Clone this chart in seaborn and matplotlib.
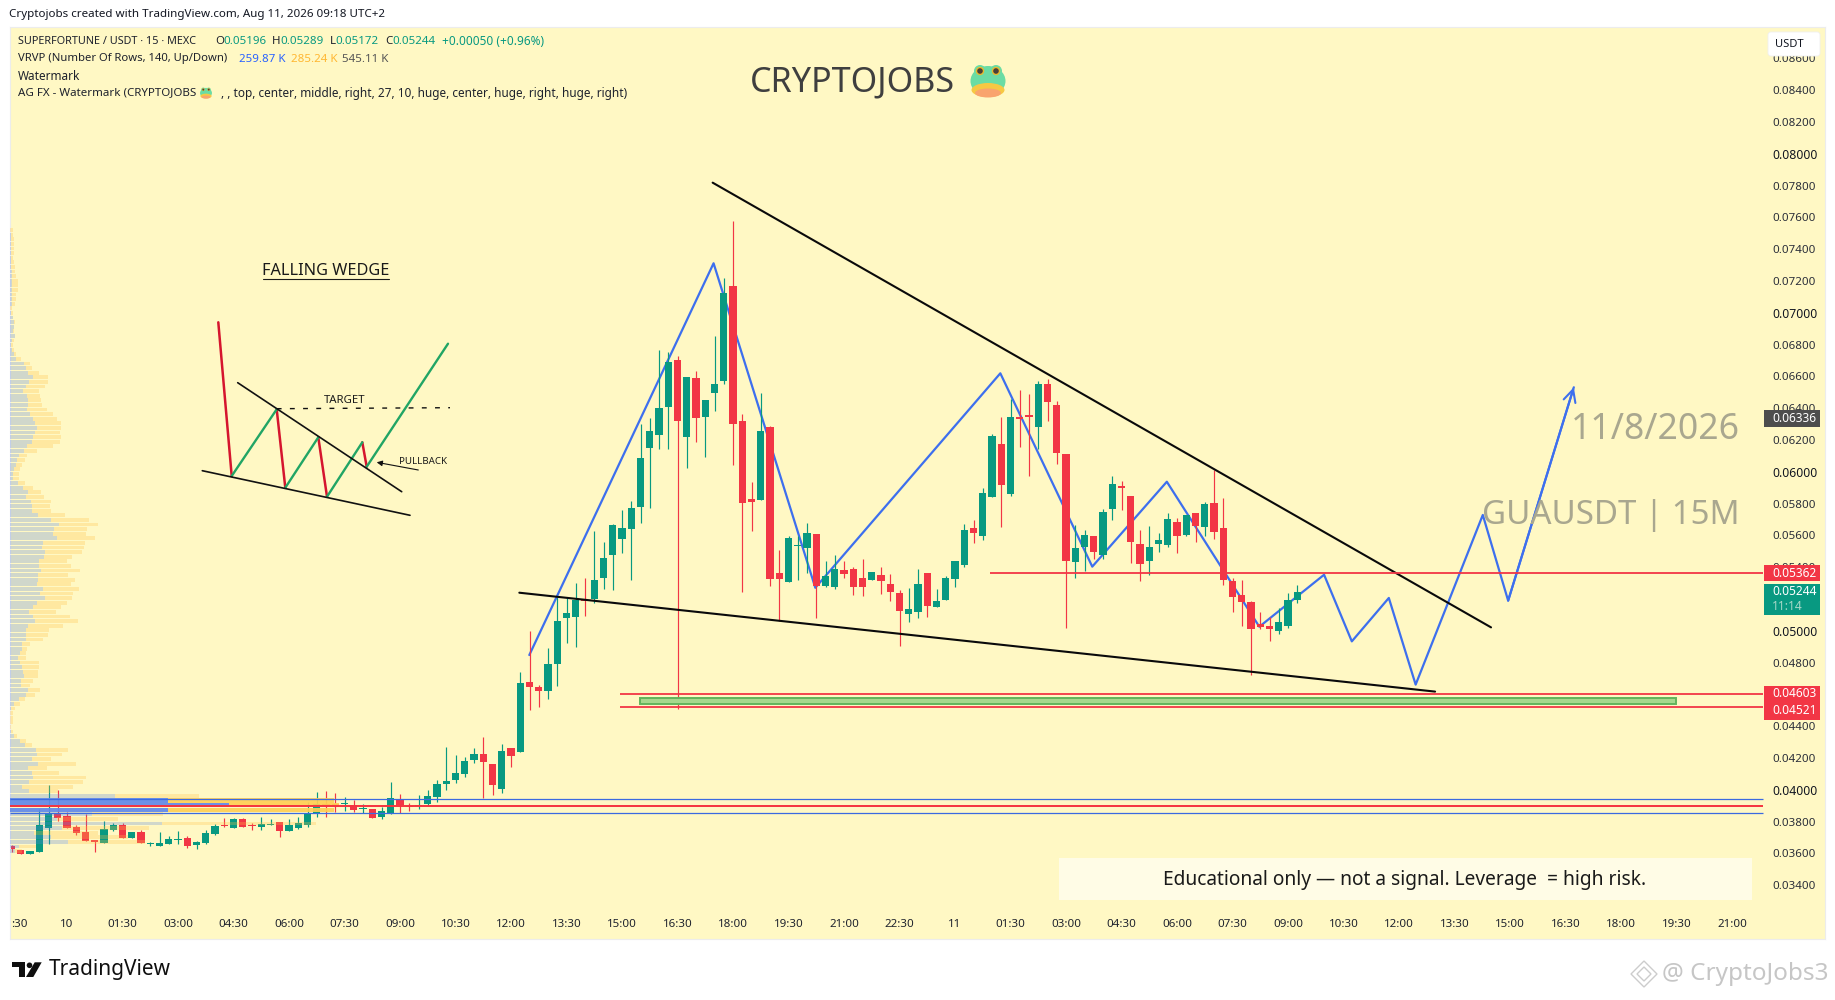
import numpy as np
import seaborn as sns
import matplotlib
matplotlib.use('Agg')
import matplotlib.pyplot as plt
from matplotlib.patches import Rectangle, Ellipse, Polygon, Circle, FancyBboxPatch

# candle prices, in thousandths of USDT
first_bar = -6
opens = [36.48,36.21,35.98,36.11,37.61,38.50,
	38.35,37.66,37.34,36.84,36.67,37.47,37.78,36.99,37.34,36.59,36.48,36.61,36.84,36.97,36.55,36.67,37.24,37.76,37.61,38.16,37.78,37.68,37.78,37.97,37.41,37.59,37.78,38.50,39.10,39.10,39.10,39.04,38.79,38.79,38.29,38.50,39.35,38.98,38.98,39.10,39.54,40.36,40.61,40.99,41.87,42.25,41.62,40.05,42.62,
	42.40,46.78,46.47,46.21,47.91,50.80,50.87,51.94,52.00,53.32,54.77,55.77,56.40,57.78,61.49,62.31,64.07,67.03,62.19,65.90,63.44,64.95,65.71,71.68,63.19,58.29,58.22,62.81,53.63,53.07,55.33,55.21,56.09,52.82,52.75,53.82,53.89,53.32,53.19,53.51,52.94,52.38,51.06,51.18,
	53.63,51.49,51.93,53.25,54.14,56.46,55.96,58.41,61.74,58.60,63.44,63.57,62.81,65.52,64.20,61.11,54.32,55.27,55.96,54.76,57.66,59.10,58.47,55.46,54.39,55.46,55.39,56.84,56.02,57.40,56.52,58.03,56.46,53.13,52.25,51.81,50.43,50.30,49.99,50.30,51.96]
highs = [36.55,36.21,36.15,38.77,40.30,39.98,
	38.58,37.76,38.47,36.84,38.03,37.93,37.91,37.34,37.45,36.71,37.34,37.09,37.41,37.09,36.80,37.47,37.85,38.22,38.22,38.22,37.93,38.29,38.16,37.97,38.16,38.29,39.21,39.86,39.92,39.79,39.54,39.35,39.10,38.79,38.91,40.49,39.73,39.17,39.67,39.98,40.61,42.69,42.18,42.06,42.62,43.32,41.62,42.88,42.62,
	47.41,49.99,46.59,48.92,52.15,52.15,53.01,53.32,56.28,55.58,56.71,57.60,58.16,63.00,63.38,67.66,67.53,67.28,65.96,66.34,64.51,68.54,72.18,75.77,63.63,59.36,64.95,62.88,55.08,55.96,55.96,56.78,56.09,54.39,54.77,54.39,54.01,54.51,53.70,54.01,53.57,52.57,52.69,53.89,
	53.63,52.63,53.44,54.39,56.71,56.96,58.98,62.37,63.44,64.57,65.14,64.89,65.71,65.83,64.45,61.11,56.65,56.34,55.96,57.66,59.73,59.42,58.47,56.34,56.59,56.15,57.40,57.09,57.28,57.40,58.10,60.11,58.35,53.32,53.19,51.87,51.18,50.87,51.43,52.37,52.89]
lows = [36.08,35.98,35.98,36.11,36.61,38.05,
	37.61,37.17,36.80,36.08,36.67,37.43,36.99,36.99,36.67,36.46,36.48,36.61,36.61,36.36,36.29,36.61,37.15,37.64,37.61,37.68,37.49,37.49,37.78,37.03,37.41,37.53,37.66,38.29,38.29,38.60,38.66,38.60,38.54,38.22,38.16,38.50,38.52,38.66,38.79,38.98,39.23,39.98,40.42,40.80,41.68,39.48,39.67,39.79,41.43,
	42.40,45.02,45.21,45.71,46.53,49.23,48.98,50.93,51.75,52.63,52.57,54.89,53.19,56.78,57.72,61.43,61.43,45.08,60.24,61.87,60.93,63.82,65.52,60.43,52.44,56.28,58.22,52.82,50.62,53.07,53.19,53.63,50.80,52.75,52.63,53.32,52.25,52.19,53.19,52.31,51.87,49.04,50.55,50.80,
	50.87,51.49,51.93,52.75,54.01,55.52,55.71,58.41,56.52,58.47,61.55,59.73,61.43,63.19,60.49,50.17,53.32,53.76,54.51,54.51,56.96,57.59,54.26,53.13,53.51,54.95,55.27,54.89,55.96,55.58,55.96,55.77,52.88,51.18,50.30,47.22,50.11,49.36,49.80,50.17,51.72]
closes = [36.29,35.98,36.15,37.78,38.50,38.22,
	37.61,37.30,36.80,36.73,37.53,37.78,36.99,37.34,36.67,36.65,36.65,36.90,36.90,36.48,36.71,37.28,37.72,37.70,38.16,37.68,37.72,37.85,37.85,37.41,37.78,37.91,38.50,39.10,39.04,39.04,39.17,38.73,38.85,38.22,38.66,39.48,39.04,38.91,39.04,39.61,40.36,40.55,41.05,41.81,42.25,41.74,40.30,42.44,42.12,
	46.72,46.47,46.21,47.91,50.62,51.12,51.94,51.89,53.19,54.58,56.65,56.46,57.72,60.87,62.56,64.01,66.90,63.19,65.96,63.38,64.51,65.52,71.24,63.00,58.04,58.10,62.56,53.26,53.26,55.84,55.39,56.15,52.82,53.45,53.89,53.57,52.75,52.75,53.70,53.13,52.44,51.24,51.37,52.94,
	51.56,51.87,53.32,54.39,56.34,56.15,58.66,62.25,59.17,63.44,63.32,63.44,65.52,64.38,61.18,54.39,55.20,56.02,54.95,57.47,59.23,58.98,55.58,54.20,55.27,55.71,57.03,55.96,57.28,56.59,57.97,56.21,53.19,52.12,51.81,50.11,50.24,50.11,50.55,51.93,52.44]

# volume profile rows, top to bottom
up_vol = [.3,.7,1,1,1,1,1,1,1,1.7,2,2,2,2,1.7,1.7,1.7,.3,1,2.7,4,4,3.3,4.7,2,1.3,2,4,6,14,16,18,23,19,16,13,17,18,18,17,20,23,25,27,25,23,22,17,14,9,7,6,4,3,3,8,13,18,16,21,22,22,28,41,49,44,43,47,33,32,35,34,29,29,31,28,28,27,33,30,35,27,23,19,23,25,18,16,16,16,12,12,10,8,10,12,13,14,11,11,18,16,9,4,1,.3,.3,.3,0,1,4,10,15,26,27,22,28,18,22,23,19,12,19,105,158,219,158,82,47,152,52,24,41,58,9,5]
down_vol = [2.3,2.7,2.7,2.7,2.7,2.7,2.3,2.7,3.7,3.7,4,6,6,6,4.3,4.3,3.3,2,1.7,.7,.7,0,.3,0,1.7,1.7,2,2,5,6,6,11,15,19,19,16,13,13,14,20,23,24,26,24,25,28,28,26,13,8,8,6,6,6,6,7,10,13,18,20,18,19,27,38,39,33,33,38,42,42,37,28,28,32,39,30,37,34,36,33,27,30,28,27,37,43,35,23,22,17,8,5,6,8,19,17,15,14,12,9,12,9,6,6,4,2.7,2.7,2.7,.7,2,3,6,7,32,25,19,38,19,27,53,54,51,29,84,166,110,166,71,61,154,87,64,77,77,17,7]
vol_top, vol_bottom = 75.20, 36.14
value_area_rows = [124, 125, 126]

# drawn tools, in bars and thousandths of USDT
path_bars = [49.98,69.9,80.9,100.9,110.84,118.9,128.9,135.9,138.9,142.9,145.8,153.06,155.8,162.9]
path_prices = [48.47,73.11,52.70,66.19,54.03,59.37,50.25,53.52,49.33,52.06,46.61,57.28,51.89,65.31]
upper_bars, upper_prices = [69.8, 153.95], [78.18, 50.21]
lower_bars, lower_prices = [48.9, 147.9], [52.39, 46.17]
level_prices = [53.62, 46.03, 45.21]
level_starts = [99.8, 59.8, 59.8]
zone_bars, zone_prices = [61.9, 173.9], [45.37, 45.79]
blue_lines = [39.40, 38.52]
poc_price = 38.99

x_labels = [':30','10','01:30','03:00','04:30','06:00','07:30','09:00','10:30','12:00','13:30','15:00','16:30','18:00','19:30','21:00','22:30',
	'11','01:30','03:00','04:30','06:00','07:30','09:00','10:30','12:00','13:30','15:00','16:30','18:00','19:30','21:00']
# 52 and 46 sit fully under the price tags
y_ticks = [t for t in range(34, 87, 2) if t not in (46, 52)]

GREEN, RED, BLUE = '#089981', '#f23645', '#3d6fee'
BG = '#fff8c4'

sns.set_theme(style='white', rc={'axes.edgecolor': '#ececec', 'axes.linewidth': 0.8})
plt.rcParams['font.family'] = ['Noto Sans', 'DejaVu Sans']

fig = plt.figure(figsize=(18.35, 10), dpi=100, facecolor='white')
ax = fig.add_axes([10 / 1835, 1 - 939 / 1000, 1815 / 1835, 912 / 1000], facecolor=BG)
ax.set_axisbelow(True)

bars = np.arange(first_bar, first_bar + len(opens))
o, h, l, c = [np.array(a) for a in (opens, highs, lows, closes)]
assert len(o) == len(h) == len(l) == len(c) == 140
colors = np.where(c >= o, GREEN, RED)

# blue projection goes behind the candles
sns.lineplot(x=path_bars, y=path_prices, sort=False, estimator=None,
	color=BLUE, linewidth=1.6, zorder=1.5, ax=ax, legend=False)
ax.annotate('', xy=(path_bars[-1], path_prices[-1]), xytext=(path_bars[-2], path_prices[-2]),
	arrowprops=dict(arrowstyle='->', color=BLUE, lw=1.5, shrinkA=0, shrinkB=0, mutation_scale=22), zorder=1.5)

ax.vlines(bars, l, h, colors=colors, linewidth=0.85, zorder=2)
ax.bar(bars, np.abs(c - o), bottom=np.minimum(o, c), width=0.76, color=colors, linewidth=0, zorder=2.1)

for bx, py in ((upper_bars, upper_prices), (lower_bars, lower_prices)):
	sns.lineplot(x=bx, y=py, sort=False, estimator=None, color='#0a0a0a', linewidth=1.5, zorder=3, ax=ax, legend=False)

right_end = 183.35
ax.hlines(level_prices, level_starts, right_end, colors=RED, linewidth=1.3, zorder=3)
ax.add_patch(Rectangle((zone_bars[0], zone_prices[0]), zone_bars[1] - zone_bars[0], zone_prices[1] - zone_prices[0],
	facecolor='#a6d88d', edgecolor='#62b45c', linewidth=1.4, zorder=2.5))

ax.set_xlim((10 - 67) / 9.25, (1825 - 67) / 9.25)
ax.set_ylim(30.61, 87.97)

ax.set_xticks(np.arange(first_bar, 181, 6))
ax.set_xticklabels(x_labels)
ax.tick_params(axis='x', length=0, pad=-14.5, labelsize=8.3, labelcolor='#1e222d')
ax.set_yticks(y_ticks)
ax.set_yticklabels([f'{v / 1000:.5f}' for v in y_ticks])
ax.yaxis.tick_right()
ax.tick_params(axis='y', length=0, pad=-38.2, labelsize=8.3, labelcolor='#2a2e39')
for lab in ax.get_xticklabels():
	if lab.get_text() == '10':
		lab.set_fontweight('bold')
ax.get_xticklabels()[0].set_ha('left')
for lab, v in zip(ax.get_yticklabels(), y_ticks):
	if v % 10 == 0:
		lab.set_fontweight('bold')
		lab.set_fontsize(8.8)
		lab.set_color('#131722')

# volume profile sits on top of the candles, in its own scale
ax2 = ax.twiny()
ax2.set_xlim(0, 1815)
ax2.set_xticks([])
for s in ax2.spines.values():
	s.set_visible(False)
rows = np.linspace(vol_top, vol_bottom, len(up_vol))
up = np.array(up_vol)
down = np.array(down_vol)
row_h = (vol_top - vol_bottom) / (len(up_vol) - 1)
in_va = np.isin(np.arange(len(up)), value_area_rows)
ax2.barh(rows[~in_va], up[~in_va], height=row_h * 0.84, color='#5883df', alpha=0.28, linewidth=0)
ax2.barh(rows[~in_va], down[~in_va], left=up[~in_va], height=row_h * 0.84, color='#ffbf46', alpha=0.28, linewidth=0)
ax2.barh(rows[in_va], up[in_va], height=row_h * 0.94, color='#5f88ea', alpha=0.92, linewidth=0)
ax2.barh(rows[in_va], down[in_va], left=up[in_va], height=row_h * 0.94, color='#ffcf55', alpha=0.92, linewidth=0)
ax2.hlines(blue_lines, 0, 1753, colors='#3b6ae0', linewidth=0.9)
ax2.hlines(poc_price, 0, 1753, colors='#f5333f', linewidth=1.4)

# price tags on the scale
def tag(top, bottom, color):
	ax.add_patch(Rectangle((1754 / 1815, bottom), 56 / 1815, top - bottom, facecolor=color, linewidth=0,
		transform=ax.get_yaxis_transform(), zorder=6))

def tag_text(price, text, color='white'):
	ax.text(1762 / 1815, price, text, color=color, fontsize=8.6, fontweight='bold', va='center', ha='left',
		transform=ax.get_yaxis_transform(), zorder=7)

tag(63.88, 62.84, '#4d4d4d')
tag_text(63.36, '0.06336')
tag(54.14, 53.10, RED)
tag_text(53.62, '0.05362')
tag(52.93, 51.01, GREEN)
tag_text(52.44, '0.05244')
tag_text(51.51, '11:14', '#a8d8c8')
tag(46.55, 45.52, RED)
tag_text(46.03, '0.04603')
tag(45.52, 44.40, RED)
tag_text(45.00, '0.04521')

# everything that is not tied to the scales, in picture pixels
ov = fig.add_axes([0, 0, 1, 1], facecolor='none')
ov.set_xlim(0, 1835)
ov.set_ylim(1000, 0)
ov.axis('off')

ov.add_patch(FancyBboxPatch((1768, 32), 52, 24, boxstyle='round,pad=0,rounding_size=3', facecolor='white', edgecolor='#f0f0f0', linewidth=0.6))
ov.text(1789, 44.5, 'USDT', fontsize=8, color='#131722', ha='center', va='center')

ov.text(9, 15, 'Cryptojobs created with TradingView.com, Aug 11, 2026 09:18 UTC+2', fontsize=8.35, color='#131722', va='center')

LEG = '#1e222d'
legend_parts = [
	(17.9, 41.7, 'SUPERFORTUNE / USDT · 15 · MEXC', LEG, 7.8), (215.6, 41.7, 'O', LEG, 8.3), (223.2, 41.7, '0.05196', GREEN, 8.3),
	(272.3, 41.7, 'H', LEG, 8.3), (280.4, 41.7, '0.05289', GREEN, 8.3), (329.5, 41.7, 'L', LEG, 8.3), (335.7, 41.7, '0.05172', GREEN, 8.3),
	(385.3, 41.7, 'C', LEG, 8.3), (392, 41.7, '0.05244', GREEN, 8.3), (442, 41.7, '+0.00050 (+0.96%)', GREEN, 8.5),
	(17.9, 59, 'VRVP (Number Of Rows, 140, Up/Down)', LEG, 8.1), (238.8, 59, '259.87 K', '#2962ff', 8.3),
	(290.6, 59, '285.24 K', '#ffb732', 8.3), (342.4, 59, '545.11 K', '#555555', 8.3),
	(17.9, 76, 'Watermark', LEG, 8.5),
	(17.9, 93, 'AG FX - Watermark (CRYPTOJOBS', LEG, 8.3),
	(221, 93, ', , top, center, middle, right, 27, 10, huge, center, huge, right, huge, right)', LEG, 8.5),
]
for px, py, txt, col, fs in legend_parts:
	ov.text(px, py, txt, fontsize=fs, color=col, va='center')

def frog(cx, cy, s):
	ov.add_patch(Circle((cx - 8 * s, cy - 10 * s), 6 * s, color='#6bdca4', linewidth=0))
	ov.add_patch(Circle((cx + 8 * s, cy - 10 * s), 6 * s, color='#6bdca4', linewidth=0))
	ov.add_patch(Ellipse((cx, cy), 35 * s, 30 * s, color='#6bdca4', linewidth=0))
	ov.add_patch(Ellipse((cx, cy + 9 * s), 33 * s, 14 * s, color='#f7c843', linewidth=0))
	ov.add_patch(Ellipse((cx, cy + 12 * s), 26 * s, 9 * s, color='#f9a46e', linewidth=0))
	for ex in (-8, 8):
		ov.add_patch(Circle((cx + ex * s, cy - 10 * s), 4.2 * s, color='#e8b92e', linewidth=0))
		ov.add_patch(Circle((cx + ex * s, cy - 10 * s), 2.8 * s, color='#4a4038', linewidth=0))

ov.text(852, 82, 'CRYPTOJOBS', fontsize=24.5, color='#3f3f3f', ha='center', va='center')
frog(988, 81, 1)
frog(206, 93, 0.34)

ov.text(1740, 430, '11/8/2026', fontsize=25.6, color='#a9a78f', ha='right', va='center')
ov.text(1740, 515, 'GUAUSDT | 15M', fontsize=23.8, color='#a9a78f', ha='right', va='center')

ov.add_patch(Rectangle((1059, 858), 693, 42, facecolor='#fffce6', linewidth=0, zorder=1))
ov.text(1405, 880, 'Educational only — not a signal. Leverage  = high risk.', fontsize=13.8, color='#1a1a1a', ha='center', va='center', zorder=2)

# falling wedge sketch
wedge_red = [[(218.3, 322.3), (231.7, 476)], [(276.7, 409.3), (285.3, 487.7)], [(318.3, 437.3), (327, 496.7)], [(362.3, 442.3), (366.7, 466.7)]]
wedge_green = [[(231.7, 476), (276.7, 409.3)], [(285.3, 487.7), (318.3, 437.3)], [(327, 496.7), (362.3, 442.3)], [(366.7, 466.7), (448, 343.7)]]
for seg in wedge_red:
	ov.plot(*zip(*seg), color='#d5152e', linewidth=1.8)
for seg in wedge_green:
	ov.plot(*zip(*seg), color='#21a565', linewidth=1.7)
ov.plot([237.7, 401.7], [382.7, 491.7], color='#111111', linewidth=1.2)
ov.plot([202.3, 410], [470.7, 515.3], color='#111111', linewidth=1.2)
ov.plot([276.7, 450], [408.7, 407.7], color='#111111', linewidth=1, dashes=(3.5, 6))
ov.text(326, 271, 'FALLING WEDGE', fontsize=11.7, color='#1a1a1a', ha='center', va='center')
ov.plot([263, 389], [278.5, 278.5], color='#1a1a1a', linewidth=0.8)
ov.text(344.3, 400.3, 'TARGET', fontsize=8.2, color='#1a1a1a', ha='center', va='center')
ov.text(422.7, 461.7, 'PULLBACK', fontsize=7, color='#1a1a1a', ha='center', va='center')
ov.annotate('', xy=(376.7, 462.3), xytext=(418.3, 470), arrowprops=dict(arrowstyle='-|>', color='#111111', lw=0.8, shrinkA=0, shrinkB=0, mutation_scale=8))

# logo and site watermark
ov.add_patch(Polygon([(12, 962.3), (25, 962.3), (25, 977), (18.7, 977), (18.7, 967.3), (12, 967.3)], color='#0f0f0f', linewidth=0))
ov.add_patch(Circle((29.5, 965.3), 2.8, color='#0f0f0f', linewidth=0))
ov.add_patch(Polygon([(41.7, 962.3), (33.3, 977), (26, 977), (34.7, 962.3)], color='#0f0f0f', linewidth=0))
ov.text(49, 970, 'TradingView', fontsize=15, fontweight='bold', color='#0f0f0f', va='center')

for r in (13, 7):
	ov.add_patch(Polygon([(1644, 974 - r), (1644 + r, 974), (1644, 974 + r), (1644 - r, 974)], facecolor='none', edgecolor='#cccccc', linewidth=1))
ov.text(1828, 974, '@ CryptoJobs3', fontsize=17.5, color='#c6c6c6', ha='right', va='center')

fig.savefig('out.png', dpi=100, facecolor='white')
